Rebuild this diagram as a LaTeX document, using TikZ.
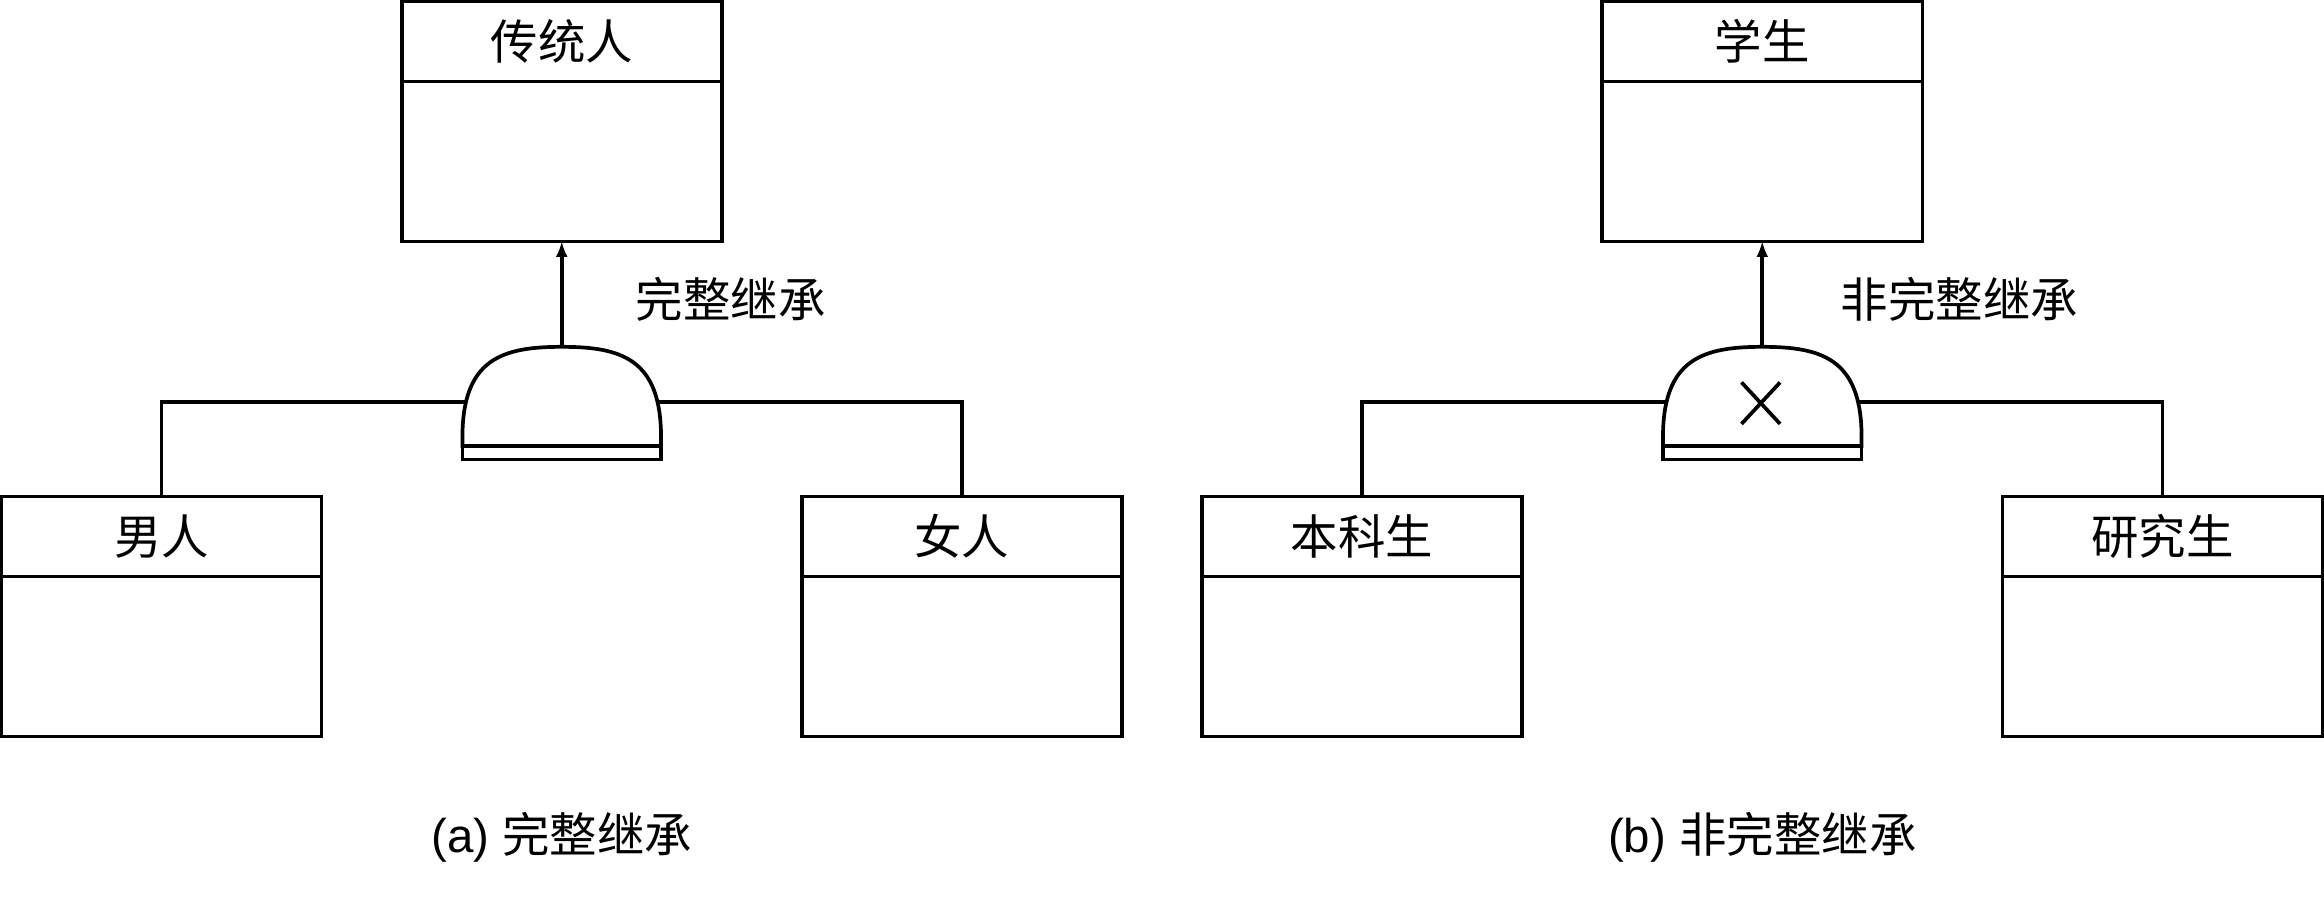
\documentclass[tikz,border=0pt]{standalone}
\usepackage{fontspec}
\setmainfont{Liberation Sans}
\newfontfamily\cjk{Noto Sans CJK SC}
\begin{document}
\begin{tikzpicture}[x=1pt,y=-1pt,line width=2.5pt,
  lbl/.style={font=\cjk\fontsize{32}{36}\selectfont,inner sep=0},
  captext/.style={font=\fontsize{32}{36}\selectfont,inner sep=0}]
\useasboundingbox (0,0) rectangle (1568,607);
\newcommand\umlbox[4]{%
  \draw (#1,#2) rectangle (#1+216,#2+162);
  \draw (#1,#2+54) -- (#1+216,#2+54);
  \node[lbl] (#4) at (#1+108,#2+27) {#3};}
\newcommand\gate[2]{%
  \draw (#1-67,301) -- (#1-67,295) .. controls (#1-67,242) and (#1-40,234) .. (#1,234)
    .. controls (#1+40,234) and (#1+67,242) .. (#1+67,295) -- (#1+67,301) -- cycle;
  \draw (#1-67,301) rectangle (#1+67,310);
  \coordinate (#2t) at (#1,234);
  \coordinate (#2l) at (#1-65,271);
  \coordinate (#2r) at (#1+65,271);}
% (a)
\umlbox{271}{1}{传统人}{A}
\umlbox{1}{335}{男人}{A1}
\umlbox{541}{335}{女人}{A2}
\gate{379}{ga}
\draw[-latex] (gat) -- (379,163);
\draw (gal) -| (109,335);
\draw (gar) -| (649,335);
\node[lbl] (la) at (493,202) {完整继承};
\node[captext] (ca) at (379,565) {(a) {\cjk 完整继承}};
% (b)
\umlbox{1081}{1}{学生}{B}
\umlbox{811}{335}{本科生}{B1}
\umlbox{1351}{335}{研究生}{B2}
\gate{1189}{gb}
\draw[-latex] (gbt) -- (1189,163);
\draw (gbl) -| (919,335);
\draw (gbr) -| (1459,335);
\draw (1175,258) -- (1201,286) (1175,286) -- (1201,258);
\node[lbl] (lb) at (1322,202) {非完整继承};
\node[captext] (cb) at (1189,565) {(b) {\cjk 非完整继承}};
\end{tikzpicture}
\end{document}
